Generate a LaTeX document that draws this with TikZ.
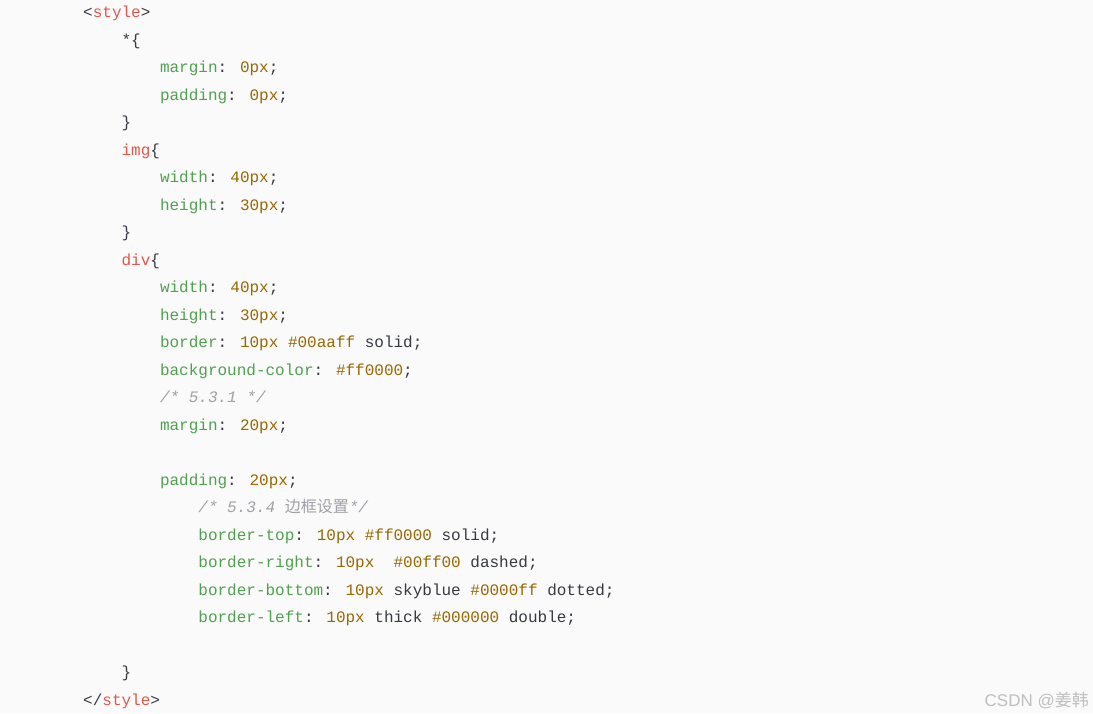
\documentclass[tikz,border=0pt]{standalone}
\usepackage{fontspec}
\newfontfamily\code{Liberation Mono}
\newfontfamily\cjk{Noto Sans CJK SC}
\definecolor{bgc}{HTML}{FAFAFA}
\definecolor{tg}{HTML}{E45649}
\definecolor{pr}{HTML}{50A14F}
\definecolor{vl}{HTML}{986801}
\definecolor{cm}{HTML}{A0A1A7}
\definecolor{tx}{HTML}{383A42}
\newcommand\T[1]{\textcolor{tg}{#1}}
\newcommand\PR[1]{\textcolor{pr}{#1}}
\newcommand\V[1]{\textcolor{vl}{#1}}
\newcommand\CM[1]{\textcolor{cm}{\itshape #1}}
\tikzset{ln/.style={anchor=base west,inner sep=0pt,font=\code\fontsize{16}{16}\selectfont,text=tx}}
\begin{document}
\begin{tikzpicture}[x=1pt,y=1pt]
\fill[bgc] (0,0) rectangle (1093,713);
\useasboundingbox (0,0) rectangle (1093,713);
\def\L#1#2#3{\node[ln] (l#1) at ({83+9.6*#2},{713-18-27.48*(#1-1)}) {#3};}
\L{1}{0}{<\T{style}>}
\L{2}{4}{*\{}
\L{3}{8}{\PR{margin}: \V{0px};}
\L{4}{8}{\PR{padding}: \V{0px};}
\L{5}{4}{\}}
\L{6}{4}{\T{img}\{}
\L{7}{8}{\PR{width}: \V{40px};}
\L{8}{8}{\PR{height}: \V{30px};}
\L{9}{4}{\}}
\L{10}{4}{\T{div}\{}
\L{11}{8}{\PR{width}: \V{40px};}
\L{12}{8}{\PR{height}: \V{30px};}
\L{13}{8}{\PR{border}: \V{10px} \V{\#00aaff} solid;}
\L{14}{8}{\PR{background-color}: \V{\#ff0000};}
\L{15}{8}{\CM{/* 5.3.1 */}}
\L{16}{8}{\PR{margin}: \V{20px};}
\L{18}{8}{\PR{padding}: \V{20px};}
\L{19}{12}{\CM{/* 5.3.4 {\cjk\itshape 边框设置}*/}}
\L{20}{12}{\PR{border-top}: \V{10px} \V{\#ff0000} solid;}
\L{21}{12}{\PR{border-right}: \V{10px}\ \ \V{\#00ff00} dashed;}
\L{22}{12}{\PR{border-bottom}: \V{10px} skyblue \V{\#0000ff} dotted;}
\L{23}{12}{\PR{border-left}: \V{10px} thick \V{\#000000} double;}
\L{25}{4}{\}}
\L{26}{0}{</\T{style}>}
\node[anchor=base east,inner sep=0pt,text=black!25,font={\fontsize{17}{17}\selectfont}] (wm) at (1089,7) {\fontspec{Liberation Sans}CSDN @{\cjk 姜韩}};
\end{tikzpicture}
\end{document}
